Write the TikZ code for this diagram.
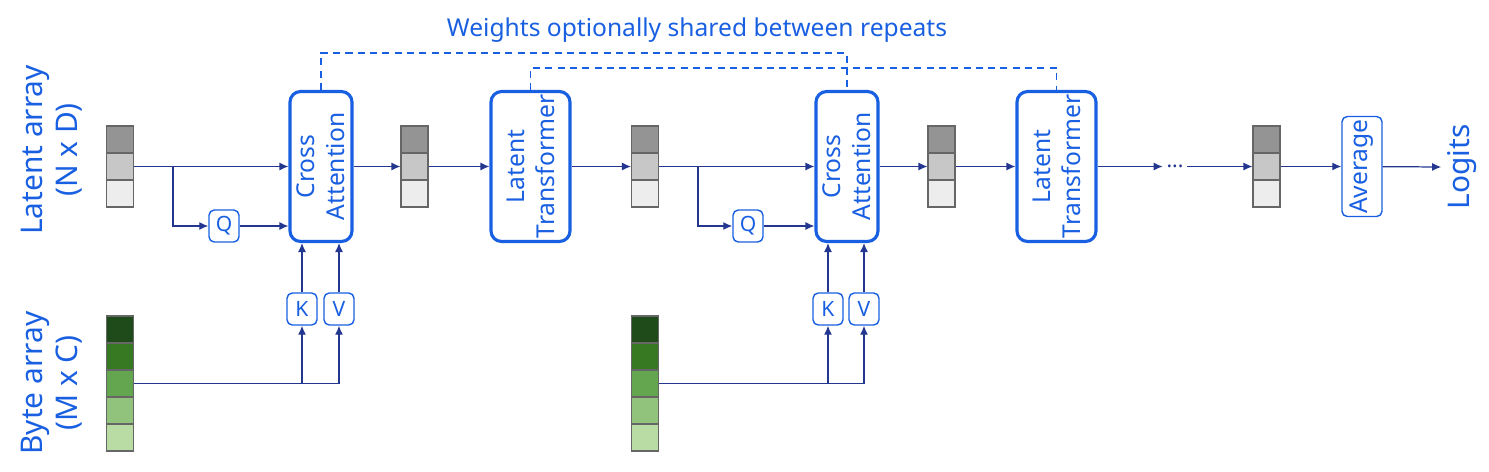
\documentclass[tikz,border=0pt]{standalone}
\usepackage{fontspec}
\setmainfont{Noto Sans}
\usetikzlibrary{arrows.meta}
\definecolor{pblue}{RGB}{25,95,225}
\definecolor{pnavy}{RGB}{35,55,145}
\tikzset{%
  >={Latex[width=1.6mm,length=1.8mm]},
  % styles for blocks
        block/.style = {draw=pblue, line width=1.8pt, rounded corners=6pt,
                        minimum width=1.24cm, minimum height=3cm, inner sep=0pt},
          big/.style = {block, minimum width=1.58cm},
        small/.style = {draw=pblue, line width=0.8pt, rounded corners=3pt,
                        minimum width=0.6cm, minimum height=0.64cm, inner sep=0pt,
                        text=pblue, font=\large},
         cell/.style = {draw=black!60, line width=0.6pt, minimum width=0.54cm,
                        minimum height=0.54cm, inner sep=0pt},
    sidelabel/.style = {rotate=90, text=pblue, font=\fontsize{17}{20}\selectfont, align=center},
         link/.style = {->, draw=pnavy, line width=0.7pt},
}
\begin{document}
\begin{tikzpicture}[x=0.02cm, y=-0.02cm,
    every label/.style={rotate=90, text=pblue, font=\fontsize{14}{17}\selectfont, align=center}]
  \useasboundingbox (0,0) rectangle (1489,471);

  % side labels
  \node (latlbl) [sidelabel] at (52,150) {Latent array\\(N x D)};
  \node (bytelbl) [sidelabel] at (52,383) {Byte array\\(M x C)};
  \node (logits) [sidelabel] at (1462,167) {Logits};

  % latent arrays
  \foreach \s/\cx in {1/120, 2/414.5, 3/645, 4/941.5, 5/1266.5} {
    \node (lat\s-1) [cell, fill=black!42] at (\cx,139.5) {};
    \node (lat\s-2) [cell, fill=black!22] at (\cx,166.5) {};
    \node (lat\s-3) [cell, fill=black!7]  at (\cx,193.5) {};
  }
  % byte arrays
  \foreach \s/\cx in {1/120, 2/645} {
    \foreach \i/\col in {1/{30,75,25}, 2/{55,120,35}, 3/{100,165,80}, 4/{145,195,125}, 5/{185,220,165}} {
      \definecolor{bc}{RGB}{\col}
      \node (byte\s-\i) [cell, fill=bc] at (\cx,{329.5+27*(\i-1)}) {};
    }
  }

  % blocks
  \node (ca1) [block, label={center:Cross\\Attention}] at (321,166.5) {};
  \node (ca2) [block, label={center:Cross\\Attention}] at (847,166.5) {};
  \node (lt1) [big, label={center:Latent\\Transformer}] at (530.5,166.5) {};
  \node (lt2) [big, label={center:Latent\\Transformer}] at (1056.5,166.5) {};
  \node (avg) [small, minimum width=0.8cm, minimum height=2cm,
               label={center:Average}] at (1362,166.5) {};
  \node (q1) [small] at (224,226) {Q};
  \node (q2) [small] at (748,226) {Q};
  \node (k1) [small] at (302,309) {K};
  \node (v1) [small] at (339,309) {V};
  \node (k2) [small] at (828,309) {K};
  \node (v2) [small] at (864,309) {V};
  \node (dots) [text=pnavy, font=\large, inner sep=2pt] at (1175,166.5) {...};

  % main flow
  \draw[link] (lat1-2) -- (ca1);
  \draw[link] (ca1) -- (lat2-2);
  \draw[link] (lat2-2) -- (lt1);
  \draw[link] (lt1) -- (lat3-2);
  \draw[link] (lat3-2) -- (ca2);
  \draw[link] (ca2) -- (lat4-2);
  \draw[link] (lat4-2) -- (lt2);
  \draw[link] (lt2) -- (dots);
  \draw[link] (dots) -- (lat5-2);
  \draw[link] (lat5-2) -- (avg);
  \draw[link] (avg) -- (logits.north);

  % queries
  \draw[link] (lat1-2.east) -- ++(39,0) |- (q1);
  \draw[link] (q1) -- (q1 -| ca1.west);
  \draw[link] (lat3-2.east) -- ++(39,0) |- (q2);
  \draw[link] (q2) -- (q2 -| ca2.west);

  % keys and values
  \draw[link] (byte1-3.east) -| (v1);
  \draw[link] (byte1-3.east -| k1) -- (k1);
  \draw[link] (k1) -- (k1 |- ca1.south);
  \draw[link] (v1) -- (v1 |- ca1.south);
  \draw[link] (byte2-3.east) -| (v2);
  \draw[link] (byte2-3.east -| k2) -- (k2);
  \draw[link] (k2) -- (k2 |- ca2.south);
  \draw[link] (v2) -- (v2 |- ca2.south);

  % shared weights
  \draw[pblue, line width=0.8pt, dash pattern=on 4pt off 3pt]
    (ca1.north) -- ++(0,-37) -| (ca2.north);
  \draw[pblue, line width=0.8pt, dash pattern=on 4pt off 3pt]
    (lt1.north) -- ++(0,-22) -| (lt2.north);
  \node (shared) [text=pblue, font=\fontsize{14}{17}\selectfont] at (697,30)
    {Weights optionally shared between repeats};
\end{tikzpicture}
\end{document}
